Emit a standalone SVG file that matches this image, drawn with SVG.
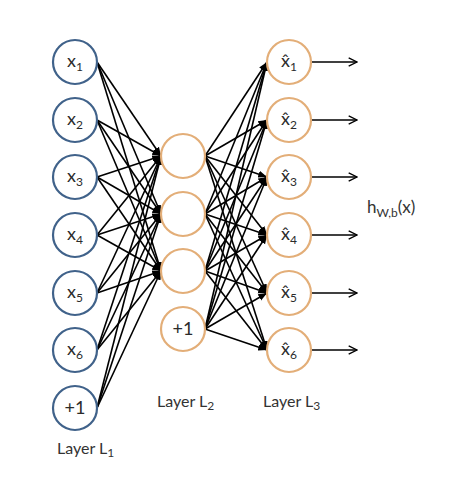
<svg xmlns="http://www.w3.org/2000/svg" width="474" height="504" viewBox="0 0 474 504">
<style>
.l1{fill:#fff;stroke:#40628a;stroke-width:2.2}
.l2{fill:#fff;stroke:#e3ae78;stroke-width:2.2}
.t{font-family:Lato,"Noto Sans",sans-serif;font-size:18px;fill:#2b2b2b;text-anchor:middle}
.s{font-size:12px}
.lab{font-family:Lato,"Noto Sans",sans-serif;font-size:16px;fill:#333}
.c line{stroke:#000;stroke-width:1.6;marker-end:url(#ah)}
.o line{stroke:#000;stroke-width:1.6;marker-end:url(#oa)}
</style>
<defs>
<marker id="ah" viewBox="0 0 10 10" refX="10" refY="5" markerWidth="5.5" markerHeight="5.5" orient="auto" markerUnits="strokeWidth">
<path d="M0,1 L10,5 L0,9 Z" fill="#000"/>
</marker>
<marker id="oa" viewBox="0 0 10 10" refX="9" refY="5" markerWidth="6.5" markerHeight="6.5" orient="auto" markerUnits="strokeWidth">
<path d="M1,1 L9,5 L1,9" fill="none" stroke="#000" stroke-width="1.3"/>
</marker>
</defs>
<rect width="474" height="504" fill="#fff"/>
<g id="connectors">
<g class="c">
<line x1="97" y1="62" x2="161" y2="156"/><line x1="97" y1="62" x2="161" y2="214"/><line x1="97" y1="62" x2="161" y2="271"/>
<line x1="97" y1="120" x2="161" y2="156"/><line x1="97" y1="120" x2="161" y2="214"/><line x1="97" y1="120" x2="161" y2="271"/>
<line x1="97" y1="177" x2="161" y2="156"/><line x1="97" y1="177" x2="161" y2="214"/><line x1="97" y1="177" x2="161" y2="271"/>
<line x1="97" y1="235" x2="161" y2="156"/><line x1="97" y1="235" x2="161" y2="214"/><line x1="97" y1="235" x2="161" y2="271"/>
<line x1="97" y1="293" x2="161" y2="156"/><line x1="97" y1="293" x2="161" y2="214"/><line x1="97" y1="293" x2="161" y2="271"/>
<line x1="97" y1="350" x2="161" y2="156"/><line x1="97" y1="350" x2="161" y2="214"/><line x1="97" y1="350" x2="161" y2="271"/>
<line x1="97" y1="408" x2="161" y2="156"/><line x1="97" y1="408" x2="161" y2="214"/><line x1="97" y1="408" x2="161" y2="271"/>

<line x1="205" y1="156" x2="267" y2="62"/><line x1="205" y1="156" x2="267" y2="120"/><line x1="205" y1="156" x2="267" y2="177"/><line x1="205" y1="156" x2="267" y2="235"/><line x1="205" y1="156" x2="267" y2="293"/><line x1="205" y1="156" x2="267" y2="350"/>
<line x1="205" y1="214" x2="267" y2="62"/><line x1="205" y1="214" x2="267" y2="120"/><line x1="205" y1="214" x2="267" y2="177"/><line x1="205" y1="214" x2="267" y2="235"/><line x1="205" y1="214" x2="267" y2="293"/><line x1="205" y1="214" x2="267" y2="350"/>
<line x1="205" y1="271" x2="267" y2="62"/><line x1="205" y1="271" x2="267" y2="120"/><line x1="205" y1="271" x2="267" y2="177"/><line x1="205" y1="271" x2="267" y2="235"/><line x1="205" y1="271" x2="267" y2="293"/><line x1="205" y1="271" x2="267" y2="350"/>
<line x1="205" y1="329" x2="267" y2="62"/><line x1="205" y1="329" x2="267" y2="120"/><line x1="205" y1="329" x2="267" y2="177"/><line x1="205" y1="329" x2="267" y2="235"/><line x1="205" y1="329" x2="267" y2="293"/><line x1="205" y1="329" x2="267" y2="350"/>
</g>
<g class="o">
<line x1="312" y1="62" x2="357" y2="62"/><line x1="312" y1="120" x2="357" y2="120"/><line x1="312" y1="177" x2="357" y2="177"/>
<line x1="312" y1="235" x2="357" y2="235"/><line x1="312" y1="293" x2="357" y2="293"/><line x1="312" y1="350" x2="357" y2="350"/>
</g>
</g>
<g id="L1-x1"><circle class="l1" cx="75" cy="62" r="22"/><text class="t" x="75" y="67">x<tspan class="s" dy="4">1</tspan></text></g>
<g id="L1-x2"><circle class="l1" cx="75" cy="120" r="22"/><text class="t" x="75" y="125">x<tspan class="s" dy="4">2</tspan></text></g>
<g id="L1-x3"><circle class="l1" cx="75" cy="177" r="22"/><text class="t" x="75" y="182">x<tspan class="s" dy="4">3</tspan></text></g>
<g id="L1-x4"><circle class="l1" cx="75" cy="235" r="22"/><text class="t" x="75" y="240">x<tspan class="s" dy="4">4</tspan></text></g>
<g id="L1-x5"><circle class="l1" cx="75" cy="293" r="22"/><text class="t" x="75" y="298">x<tspan class="s" dy="4">5</tspan></text></g>
<g id="L1-x6"><circle class="l1" cx="75" cy="350" r="22"/><text class="t" x="75" y="355">x<tspan class="s" dy="4">6</tspan></text></g>
<g id="L1-bias"><circle class="l1" cx="75" cy="408" r="22"/><text class="t" x="75" y="414">+1</text></g>
<g id="L2-a1"><circle class="l2" cx="183" cy="156" r="22"/></g>
<g id="L2-a2"><circle class="l2" cx="183" cy="214" r="22"/></g>
<g id="L2-a3"><circle class="l2" cx="183" cy="271" r="22"/></g>
<g id="L2-bias"><circle class="l2" cx="183" cy="329" r="22"/><text class="t" x="183" y="335">+1</text></g>
<g id="L3-x1"><circle class="l2" cx="289" cy="62" r="22"/><text class="t" x="289" y="67">x̂<tspan class="s" dy="4">1</tspan></text></g>
<g id="L3-x2"><circle class="l2" cx="289" cy="120" r="22"/><text class="t" x="289" y="125">x̂<tspan class="s" dy="4">2</tspan></text></g>
<g id="L3-x3"><circle class="l2" cx="289" cy="177" r="22"/><text class="t" x="289" y="182">x̂<tspan class="s" dy="4">3</tspan></text></g>
<g id="L3-x4"><circle class="l2" cx="289" cy="235" r="22"/><text class="t" x="289" y="240">x̂<tspan class="s" dy="4">4</tspan></text></g>
<g id="L3-x5"><circle class="l2" cx="289" cy="293" r="22"/><text class="t" x="289" y="298">x̂<tspan class="s" dy="4">5</tspan></text></g>
<g id="L3-x6"><circle class="l2" cx="289" cy="350" r="22"/><text class="t" x="289" y="355">x̂<tspan class="s" dy="4">6</tspan></text></g>
<g id="labels">
<text class="lab" x="57" y="454">Layer L<tspan class="s" dy="3">1</tspan></text>
<text class="lab" x="157" y="407">Layer L<tspan class="s" dy="3">2</tspan></text>
<text class="lab" x="263" y="407">Layer L<tspan class="s" dy="3">3</tspan></text>
<text class="lab" x="367" y="213" style="font-size:17px">h<tspan class="s" dy="4">W,b</tspan><tspan dy="-4">(x)</tspan></text>
</g>
</svg>
